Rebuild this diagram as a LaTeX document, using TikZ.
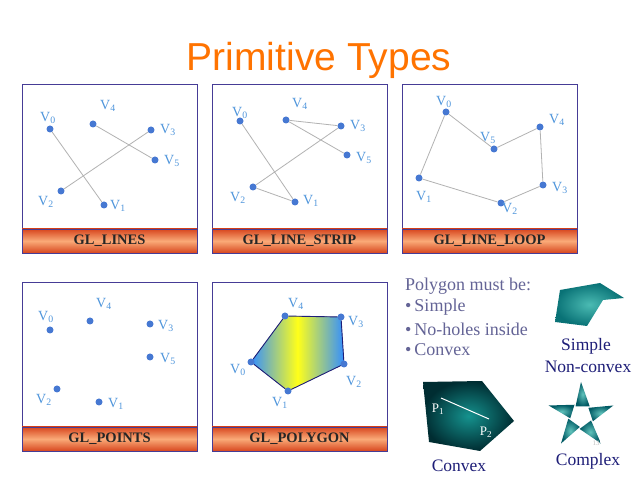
\documentclass[tikz,border=0pt]{standalone}
\usepackage{fontspec}
\usetikzlibrary{calc}
\setmainfont{Liberation Serif}
\newfontfamily\titlefont{Liberation Sans}
\begin{document}
\begin{tikzpicture}[x=1pt,y=-1pt]
\definecolor{vblue}{RGB}{70,120,210}
\definecolor{vlab}{RGB}{80,150,220}
\definecolor{frame}{RGB}{70,60,150}
\definecolor{navy}{RGB}{30,30,120}
\definecolor{grayb}{RGB}{100,100,150}
\definecolor{teal1}{RGB}{30,170,160}
\definecolor{teal2}{RGB}{0,90,100}
\definecolor{bardark}{RGB}{215,70,30}
\definecolor{barlight}{RGB}{250,170,120}
\tikzset{
 pt/.style={circle,fill=vblue,inner sep=0pt,minimum size=7pt},
 lab/.style={text=vlab,font=\fontsize{14}{14}\selectfont,inner sep=1pt},
 edge/.style={draw=black!30,line width=0.8pt},
 panel/.style={draw=frame,line width=0.8pt},
 bar/.style={draw=frame,line width=0.8pt,top color=bardark,bottom color=bardark,middle color=barlight},
 bartext/.style={font=\bfseries\fontsize{14.5}{14.5}\selectfont,text=black!85},
 side/.style={text=grayb,font=\fontsize{18}{18}\selectfont,anchor=west,inner sep=0pt},
 captext/.style={text=navy,font=\fontsize{17.5}{17.5}\selectfont,inner sep=0pt}
}
\useasboundingbox[fill=white] (0,0) rectangle (638,478);
\node[text=orange!90!red,font=\titlefont\fontsize{39}{39}\selectfont] (title) at (319,60) {Primitive Types};
% panels
\foreach \x/\y/\t/\n in {22/84/GL\_LINES/a,212/84/GL\_LINE\_STRIP/b,402/84/GL\_LINE\_LOOP/c,22/282/GL\_POINTS/d,212/282/GL\_POLYGON/e}{
 \draw[panel] (\x,\y) rectangle ++(175,169);
 \draw[bar] (\x,\y+145) rectangle ++(175,24);
 \node[bartext] (bar\n) at (\x+87.5,\y+157) {\t};
}
% panel 1
\node[pt] (a0) at (50,129) {}; \node[pt] (a4) at (93,124) {}; \node[pt] (a3) at (151,130) {};
\node[pt] (a5) at (155,160) {}; \node[pt] (a2) at (61,191) {}; \node[pt] (a1) at (104,205) {};
\draw[edge] (a0)--(a1); \draw[edge] (a2)--(a3); \draw[edge] (a4)--(a5);
\node[lab] at (48,118) {V\textsubscript{0}}; \node[lab] at (108,106) {V\textsubscript{4}};
\node[lab] at (168,130) {V\textsubscript{3}}; \node[lab] at (172,161) {V\textsubscript{5}};
\node[lab] at (46,202) {V\textsubscript{2}}; \node[lab] at (118,206) {V\textsubscript{1}};
% panel 2
\node[pt] (b0) at (240,121) {}; \node[pt] (b4) at (286,120) {}; \node[pt] (b3) at (341,126) {};
\node[pt] (b5) at (347,155) {}; \node[pt] (b2) at (253,187) {}; \node[pt] (b1) at (295,202) {};
\draw[edge] (b0)--(b1)--(b2)--(b3)--(b4)--(b5);
\node[lab] at (240,113) {V\textsubscript{0}}; \node[lab] at (300,104) {V\textsubscript{4}};
\node[lab] at (358,126) {V\textsubscript{3}}; \node[lab] at (364,158) {V\textsubscript{5}};
\node[lab] at (238,198) {V\textsubscript{2}}; \node[lab] at (311,201) {V\textsubscript{1}};
% panel 3
\node[pt] (c0) at (446,112) {}; \node[pt] (c4) at (540,127) {}; \node[pt] (c5) at (494,149) {};
\node[pt] (c3) at (543,185) {}; \node[pt] (c2) at (501,203) {}; \node[pt] (c1) at (419,178) {};
\draw[edge] (c0)--(c1)--(c2)--(c3)--(c4)--(c5)--(c0);
\node[lab] at (444,102) {V\textsubscript{0}}; \node[lab] at (557,120) {V\textsubscript{4}};
\node[lab] at (488,138) {V\textsubscript{5}}; \node[lab] at (560,188) {V\textsubscript{3}};
\node[lab] at (510,209) {V\textsubscript{2}}; \node[lab] at (424,197) {V\textsubscript{1}};
% panel 4
\node[pt] (d0) at (50,330) {}; \node[pt] (d4) at (90,321) {}; \node[pt] (d3) at (150,324) {};
\node[pt] (d5) at (150,357) {}; \node[pt] (d2) at (57,389) {}; \node[pt] (d1) at (99,402) {};
\node[lab] at (46,317) {V\textsubscript{0}}; \node[lab] at (104,304) {V\textsubscript{4}};
\node[lab] at (166,326) {V\textsubscript{3}}; \node[lab] at (168,359) {V\textsubscript{5}};
\node[lab] at (44,400) {V\textsubscript{2}}; \node[lab] at (116,404) {V\textsubscript{1}};
% panel 5
\fill[left color=blue!55!cyan!80,right color=blue!55!cyan!80,middle color=yellow!90] (251,362)--(285,316)--(341,317)--(344,364)--(288,391)--cycle;
\node[pt] (e0) at (251,362) {}; \node[pt] (e4) at (285,316) {}; \node[pt] (e3) at (341,317) {};
\node[pt] (e2) at (344,364) {}; \node[pt] (e1) at (288,391) {};
\draw[navy,line width=0.9pt] (e0)--(e4)--(e3)--(e2)--(e1)--(e0);
\node[lab] at (296,304) {V\textsubscript{4}}; \node[lab] at (356,322) {V\textsubscript{3}};
\node[lab] at (238,370) {V\textsubscript{0}}; \node[lab] at (354,382) {V\textsubscript{2}};
\node[lab] at (280,403) {V\textsubscript{1}};
% right text
\node[side] (t0) at (405,286) {Polygon must be:};
\node[side] (t1) at (405,307) {\textbullet\,Simple};
\node[side] (t2) at (405,329) {\textbullet\,No-holes inside};
\node[side] (t3) at (405,350) {\textbullet\,Convex};
% simple non-convex
\shade[inner color=teal1!80!white,outer color=teal2!70!teal1,draw=none] (560,290)--(600,283)--(624,298)--(603,300)--(587,326)--(555,322)--cycle;
\node[captext] (sn1) at (586,346) {Simple};
\node[captext] (sn2) at (588,367) {Non-convex};
% convex
\shade[inner color=teal1!70!teal2,outer color=teal2!50!black] (423,382)--(482,381)--(514,421)--(480,451)--(429,442)--cycle;
\draw[white,line width=1pt] (441,398)--(489,419);
\node[text=white,font=\fontsize{13}{13}\selectfont] at (438,409) {P\textsubscript{1}};
\node[text=white,font=\fontsize{13}{13}\selectfont] at (486,432) {P\textsubscript{2}};
\node[captext] (cv) at (459,466) {Convex};
% complex star
\foreach \a in {90,162,234,306,18}{
 \shade[inner color=teal1!70!white,outer color=teal2] ($(581,416)+(-\a:34)$) -- ($(581,416)+(-\a-30:11)$) -- ($(581,416)+(-\a+42:13)$) -- cycle;
}
\node[captext] (cx) at (588,461) {Complex};
\node[text=black!25,font=\fontsize{7}{7}\selectfont] at (596,443) {13};
\end{tikzpicture}
\end{document}
